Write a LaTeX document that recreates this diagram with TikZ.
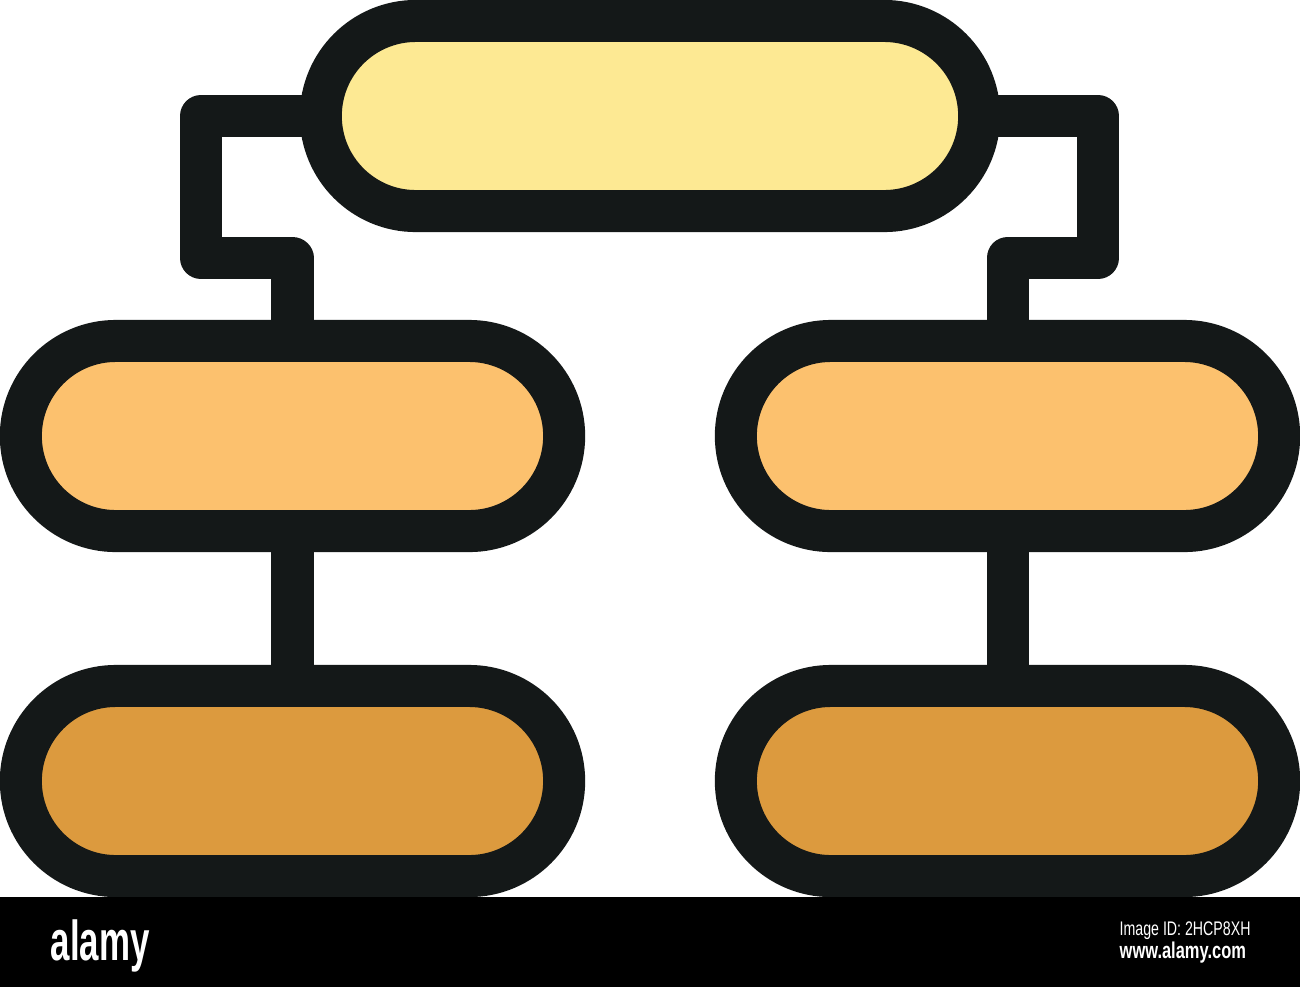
\documentclass[tikz,border=0pt]{standalone}
\usepackage{fontspec}
\setmainfont{Liberation Sans}
\usetikzlibrary{backgrounds}
\definecolor{ink}{HTML}{141818}
\definecolor{topfill}{HTML}{FDE993}
\definecolor{midfill}{HTML}{FCC16E}
\definecolor{botfill}{HTML}{DC9A3E}
\tikzset{
  pill/.style={draw=ink, line width=0.42cm, rounded corners=0.95cm,
    minimum height=1.9cm, inner sep=0pt, outer sep=0pt},
  conn/.style={draw=ink, line width=0.42cm, line join=round},
  wm/.style={text=white, inner sep=0pt, anchor=base west}
}
\begin{document}
\begin{tikzpicture}[x=0.01cm, y=-0.01cm]
\useasboundingbox (0,0) rectangle (1300,987);
\node[pill, fill=topfill, minimum width=6.58cm] (top) at (650,116) {};
\node[pill, fill=midfill, minimum width=5.43cm] (ml) at (292.5,436) {};
\node[pill, fill=midfill, minimum width=5.43cm] (mr) at (1007.5,436) {};
\node[pill, fill=botfill, minimum width=5.43cm] (bl) at (292.5,781) {};
\node[pill, fill=botfill, minimum width=5.43cm] (br) at (1007.5,781) {};
\begin{scope}[on background layer]
  \fill[white] (0,0) rectangle (1300,987);
  \draw[conn] (top.west) -| (201,258) -| (ml.north);
  \draw[conn] (top.east) -| (1098,258) -| (mr.north);
  \draw[conn] (ml.south) -- (bl.north);
  \draw[conn] (mr.south) -- (br.north);
\end{scope}
\fill[black] (0,897) rectangle (1300,987);
\node[wm] (logo) at (50,960) {\scalebox{0.62}[1]{\fontsize{16}{16}\selectfont\bfseries alamy}};
\node[wm] (imgid) at (1119,935) {\scalebox{0.72}[1]{\fontsize{5.6}{6}\selectfont Image ID: 2HCP8XH}};
\node[wm] (url) at (1119,958) {\scalebox{0.72}[1]{\fontsize{6.5}{7}\selectfont\bfseries www.alamy.com}};
\end{tikzpicture}
\end{document}
